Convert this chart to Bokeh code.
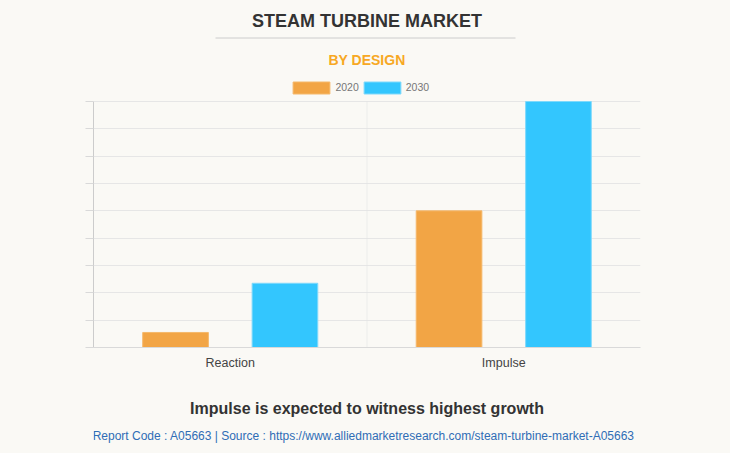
from bokeh.plotting import figure
from bokeh.models import (FactorRange, Range1d, FixedTicker, Label, BoxAnnotation, Legend,
                          LegendItem, ColumnDataSource)
from bokeh.layouts import column
from bokeh.transform import dodge
from bokeh.embed import file_html
from bokeh.resources import INLINE

categories = ["Reaction", "Impulse"]
years = ["2020", "2030"]
values_2020 = [0.55, 5.0]
values_2030 = [2.35, 9.0]
y_ticks = [0, 1, 2, 3, 4, 5, 6, 7, 8, 9]

title_text = "STEAM TURBINE MARKET"
subtitle_text = "BY DESIGN"
footer_text = "Impulse is expected to witness highest growth"
source_text = "Report Code : A05663  |  Source : https://www.alliedmarketresearch.com/steam-turbine-market-A05663"

BG = "#faf9f5"
ORANGE = "#f2a545"
BLUE = "#33c6fe"
ORANGE_EDGE = "#f5b86a"
BLUE_EDGE = "#7fd9fb"
FONT = "Liberation Sans"
W = 730
LEFT, RIGHT = 93, 90
TOP_H = 75
MAIN_H = 305
BOT_H = 453 - TOP_H - MAIN_H
CX = (LEFT + W - RIGHT) / 2


def blank_fig(h):
    f = figure(width=W, height=h, x_range=Range1d(LEFT, W - RIGHT), y_range=Range1d(h, 0),
               x_axis_type=None, y_axis_type=None, output_backend="svg",
               toolbar_location=None, min_border=0, min_border_left=LEFT,
               min_border_right=RIGHT, background_fill_color=BG,
               border_fill_color=BG, outline_line_color=None)
    f.xgrid.visible = False
    f.ygrid.visible = False
    return f


# ---------- header ----------
top = blank_fig(TOP_H)
top.add_layout(Label(x=CX, y=20, text=title_text, text_align="center",
                     text_baseline="middle", text_font=FONT, text_font_style="bold",
                     text_font_size="18px", text_color="#333333"))
top.segment(x0=[215], y0=[37.5], x1=[515], y1=[37.5], line_color="#cccccc", line_width=1)
top.add_layout(Label(x=CX, y=59, text=subtitle_text, text_align="center",
                     text_baseline="middle", text_font=FONT, text_font_style="bold",
                     text_font_size="14px", text_color="#f7a823"))

# ---------- main chart ----------
src = ColumnDataSource(dict(cat=categories, v2020=values_2020, v2030=values_2030))

# frame extends 26px above the top gridline to hold the legend
p = figure(x_range=FactorRange(*categories), y_range=Range1d(0, 9 + 26 / 27.33),
           width=W, height=MAIN_H, output_backend="svg", toolbar_location=None,
           min_border_left=LEFT, min_border_right=RIGHT, min_border_top=0,
           min_border_bottom=33,
           background_fill_color=BG, border_fill_color=BG, outline_line_color=None)

r1 = p.vbar(x=dodge("cat", -0.2, range=p.x_range), top="v2020", width=0.24, source=src,
            fill_color=ORANGE, line_color=ORANGE_EDGE, line_width=1)
r2 = p.vbar(x=dodge("cat", 0.2, range=p.x_range), top="v2030", width=0.24, source=src,
            fill_color=BLUE, line_color=BLUE_EDGE, line_width=1)

legend = Legend(items=[LegendItem(label=years[0], renderers=[r1]),
                       LegendItem(label=years[1], renderers=[r2])],
                orientation="horizontal", location=(288.4 - LEFT, 252.5),
                glyph_width=46, glyph_height=15, label_standoff=1, spacing=0,
                padding=0, margin=0, border_line_color=None, background_fill_alpha=0,
                label_text_font=FONT, label_text_font_size="10.5px",
                label_text_color="#777777", label_height=15, label_text_baseline="middle")
p.add_layout(legend, "center")

p.xgrid.grid_line_color = None
p.ygrid.ticker = FixedTicker(ticks=y_ticks)
p.ygrid.grid_line_color = "#e6e6e6"
p.ygrid.grid_line_width = 1
# category separator line
p.add_layout(BoxAnnotation(left=1.0, right=1.0, bottom=0, top=9, fill_alpha=0,
                           line_color="#e6e6e6", line_width=1))

p.yaxis.ticker = FixedTicker(ticks=y_ticks)
p.yaxis.bounds = (0, 9)
p.yaxis.major_label_overrides = {t: "" for t in y_ticks}
p.yaxis.axis_line_color = "#cccccc"
p.yaxis.major_tick_line_color = "#d9d9d9"
p.yaxis.major_tick_out = 8
p.yaxis.major_tick_in = 0
p.yaxis.minor_tick_line_color = None

p.xaxis.axis_line_color = "#d9d9d9"
p.xaxis.major_tick_line_color = None
p.xaxis.minor_tick_line_color = None
p.xaxis.major_label_text_font = FONT
p.xaxis.major_label_text_font_size = "12.5px"
p.xaxis.major_label_text_color = "#444444"
p.xaxis.major_label_standoff = 2

# ---------- footer ----------
bot = blank_fig(BOT_H)
bot.add_layout(Label(x=CX, y=28, text=footer_text, text_align="center",
                     text_baseline="middle", text_font=FONT, text_font_style="bold",
                     text_font_size="16px", text_color="#333333"))
bot.add_layout(Label(x=CX, y=55, text=source_text, text_align="center",
                     text_baseline="middle", text_font=FONT,
                     text_font_size="12px", text_color="#2f6db5"))

layout = column(top, p, bot, spacing=0, styles={"background-color": BG})
open("out.html", "w").write(file_html(layout, INLINE))
